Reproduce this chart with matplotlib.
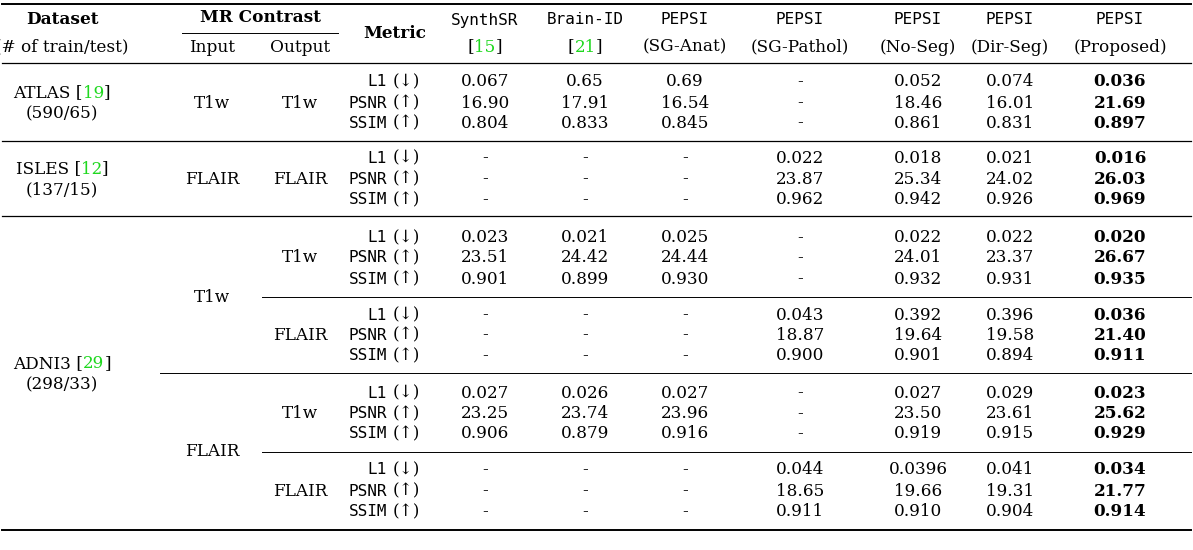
import matplotlib
matplotlib.use("Agg")
import matplotlib.pyplot as plt

W, H = 1193, 550
fig = plt.figure(figsize=(W/100, H/100), dpi=100)
SERIF = "DejaVu Serif"; MONO = "DejaVu Sans Mono"; FS = 12.2
GREEN = "#1fd81f"

methods = [("SynthSR", "15"), ("Brain-ID", "21"), ("PEPSI", "(SG-Anat)"), ("PEPSI", "(SG-Pathol)"),
           ("PEPSI", "(No-Seg)"), ("PEPSI", "(Dir-Seg)"), ("PEPSI", "(Proposed)")]
metrics = ["L1", "PSNR", "SSIM"]
arrows = ["(\u2193)", "(\u2191)", "(\u2191)"]
atlas = [["0.067", "0.65", "0.69", "-", "0.052", "0.074", "0.036"],
         ["16.90", "17.91", "16.54", "-", "18.46", "16.01", "21.69"],
         ["0.804", "0.833", "0.845", "-", "0.861", "0.831", "0.897"]]
isles = [["-", "-", "-", "0.022", "0.018", "0.021", "0.016"],
         ["-", "-", "-", "23.87", "25.34", "24.02", "26.03"],
         ["-", "-", "-", "0.962", "0.942", "0.926", "0.969"]]
adni_t1_t1 = [["0.023", "0.021", "0.025", "-", "0.022", "0.022", "0.020"],
              ["23.51", "24.42", "24.44", "-", "24.01", "23.37", "26.67"],
              ["0.901", "0.899", "0.930", "-", "0.932", "0.931", "0.935"]]
adni_t1_fl = [["-", "-", "-", "0.043", "0.392", "0.396", "0.036"],
              ["-", "-", "-", "18.87", "19.64", "19.58", "21.40"],
              ["-", "-", "-", "0.900", "0.901", "0.894", "0.911"]]
adni_fl_t1 = [["0.027", "0.026", "0.027", "-", "0.027", "0.029", "0.023"],
              ["23.25", "23.74", "23.96", "-", "23.50", "23.61", "25.62"],
              ["0.906", "0.879", "0.916", "-", "0.919", "0.915", "0.929"]]
adni_fl_fl = [["-", "-", "-", "0.044", "0.0396", "0.041", "0.034"],
              ["-", "-", "-", "18.65", "19.66", "19.31", "21.77"],
              ["-", "-", "-", "0.911", "0.910", "0.904", "0.914"]]

colx = [485, 585, 685, 800, 918, 1010, 1120]

def T(x, y, s, **kw):
    kw.setdefault("family", SERIF); kw.setdefault("fontsize", FS)
    return fig.text(x/W, 1-y/H, s, ha=kw.pop("ha", "center"), va="center", **kw)

r = fig.canvas.get_renderer()
def T_cite(x, y, pre, num, post="", **kw):
    parts = [(pre, "black"), (num, GREEN), (post, "black")]
    ts = [T(0, y, p, ha="left", color=c, **kw) for p, c in parts]
    widths = [t.get_window_extent(r).width for t in ts]
    x0 = x - sum(widths)/2
    for t, w in zip(ts, widths):
        t.set_x(x0/W); x0 += w

def hline(y, x0=2, x1=1191, lw=0.9):
    fig.add_artist(plt.Line2D([x0/W, x1/W], [1-y/H, 1-y/H], color="black", lw=lw))

# header
T(62, 20, "Dataset", weight="bold")
T(62, 47, "(# of train/test)")
T(260, 18, "MR Contrast", weight="bold")
hline(33, 182, 338, 0.7)
T(212, 47, "Input"); T(300, 47, "Output")
T(395, 33, "Metric", weight="bold")
for (a, b), x in zip(methods, colx):
    T(x, 20, a, family=MONO, fontsize=11.5)
    if b.isdigit():
        T_cite(x, 47, "[", b, "]")
    else:
        T(x, 47, b)
hline(4, lw=1.4); hline(63)

def block(ys, data):
    for i, y in enumerate(ys):
        T(387, y, metrics[i], family=MONO, ha="right", fontsize=11.5)
        T(393, y, arrows[i], ha="left")
        for j, x in enumerate(colx):
            T(x, y, data[i][j], weight="bold" if j == 6 else "normal")

b1 = [82, 103, 123]; block(b1, atlas)
T_cite(62, 93, "ATLAS [", "19", "]"); T(62, 114, "(590/65)")
T(212, 103, "T1w"); T(300, 103, "T1w")
hline(141)
b2 = [158, 179, 200]; block(b2, isles)
T_cite(62, 169, "ISLES [", "12", "]"); T(62, 190, "(137/15)")
T(212, 179, "FLAIR"); T(300, 179, "FLAIR")
hline(216)
b3 = [238, 258, 279]; block(b3, adni_t1_t1); T(300, 258, "T1w")
hline(297, 262, 1191, 0.7)
b4 = [315, 335, 356]; block(b4, adni_t1_fl); T(300, 335, "FLAIR")
T(212, 297, "T1w")
hline(373, 160, 1191, 0.7)
b5 = [393, 414, 434]; block(b5, adni_fl_t1); T(300, 414, "T1w")
hline(452, 262, 1191, 0.7)
b6 = [470, 491, 512]; block(b6, adni_fl_fl); T(300, 491, "FLAIR")
T(212, 452, "FLAIR")
T_cite(62, 364, "ADNI3 [", "29", "]"); T(62, 385, "(298/33)")
hline(530, lw=1.4)

fig.savefig("out.png", dpi=100)
